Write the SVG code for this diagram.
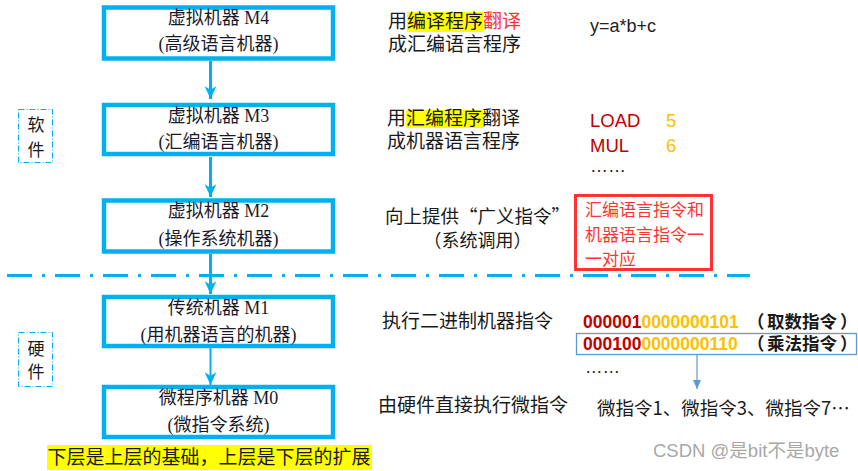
<svg xmlns="http://www.w3.org/2000/svg" width="858" height="471" viewBox="0 0 858 471">
<defs>
<style>
.box{fill:none;stroke:#00b0f0;stroke-width:4.5}
.bt{font-family:"Liberation Serif","Noto Sans CJK SC",serif;font-size:18px;fill:#1a1a2a;text-anchor:middle}
.cn{font-family:"Noto Sans CJK SC",sans-serif;fill:#1a1a1a}
.red{fill:#ff3333}
.lat{font-family:"Liberation Sans",Arial,sans-serif}
.tag{fill:none;stroke:#00b0f0;stroke-width:1;stroke-dasharray:6 2 1 2}
.conn{stroke:#00b0f0;fill:none}
</style>
<marker id="ah" markerUnits="userSpaceOnUse" markerWidth="14" markerHeight="14" viewBox="0 0 12 12" refX="11" refY="6" orient="auto">
<path d="M0,1 L11,6 L0,11 L3,6 Z" fill="#00b0f0"/>
</marker>
<marker id="ah2" markerUnits="userSpaceOnUse" markerWidth="10" markerHeight="10" viewBox="0 0 10 10" refX="9" refY="5" orient="auto">
<path d="M0,1 L9,5 L0,9 Z" fill="#5b9bd5"/>
</marker>
</defs>
<rect width="858" height="471" fill="#ffffff"/>

<g id="connectors">
<line class="conn" x1="210.5" y1="61" x2="210.5" y2="99" stroke-width="3" marker-end="url(#ah)"/>
<line class="conn" x1="210.5" y1="157" x2="210.5" y2="197" stroke-width="3" marker-end="url(#ah)"/>
<line class="conn" x1="210.5" y1="254" x2="210.5" y2="294" stroke-width="3" marker-end="url(#ah)"/>
<line class="conn" x1="210.5" y1="348" x2="210.5" y2="385" stroke-width="2" marker-end="url(#ah)"/>
<line x1="697" y1="355" x2="697" y2="389" stroke="#5b9bd5" stroke-width="1.2" marker-end="url(#ah2)"/>
</g>

<line id="divider" x1="7" y1="275.5" x2="750" y2="275.5" stroke="#00b0f0" stroke-width="3" stroke-dasharray="25 10 3 10"/>

<g id="m4">
<rect class="box" x="104" y="7.5" width="229" height="51"/>
<text class="bt" x="218.5" y="24">虚拟机器 M4</text>
<text class="bt" x="218.5" y="50">(高级语言机器)</text>
</g>
<g id="m3">
<rect class="box" x="104" y="105" width="229" height="49"/>
<text class="bt" x="218.5" y="122">虚拟机器 M3</text>
<text class="bt" x="218.5" y="148">(汇编语言机器)</text>
</g>
<g id="m2">
<rect class="box" x="104" y="200.5" width="229" height="51"/>
<text class="bt" x="218.5" y="217">虚拟机器 M2</text>
<text class="bt" x="218.5" y="245">(操作系统机器)</text>
</g>
<g id="m1">
<rect class="box" x="104" y="297" width="229" height="49"/>
<text class="bt" x="218.5" y="314">传统机器 M1</text>
<text class="bt" x="218.5" y="341">(用机器语言的机器)</text>
</g>
<g id="m0">
<rect class="box" x="104" y="387" width="229" height="50"/>
<text class="bt" x="218.5" y="404">微程序机器 M0</text>
<text class="bt" x="218.5" y="431">(微指令系统)</text>
</g>

<g id="software">
<rect class="tag" x="18.5" y="109.5" width="34" height="53"/>
<text class="cn" x="36" y="131" font-size="17" text-anchor="middle">软</text>
<text class="cn" x="36" y="156" font-size="17" text-anchor="middle">件</text>
</g>
<g id="hardware">
<rect class="tag" x="18.5" y="332.5" width="34" height="54"/>
<text class="cn" x="36" y="355" font-size="17" text-anchor="middle">硬</text>
<text class="cn" x="36" y="378" font-size="17" text-anchor="middle">件</text>
</g>

<g id="summary">
<rect x="47" y="445" width="325" height="25" fill="#ffff00"/>
<text class="cn" x="47.5" y="464" font-size="19">下层是上层的基础，上层是下层的扩展</text>
</g>

<g id="note-m4">
<rect x="407" y="12" width="76" height="20" fill="#ffff00"/>
<text class="cn" x="388" y="28" font-size="19">用<tspan>编译程序</tspan><tspan class="red">翻译</tspan></text>
<text class="cn" x="388" y="51" font-size="19">成汇编语言程序</text>
<text class="lat" x="590" y="32" font-size="18" fill="#222">y=a*b+c</text>
</g>

<g id="note-m3">
<rect x="406" y="110" width="77" height="18" fill="#ffff00"/>
<text class="cn" x="387" y="125" font-size="19">用汇编程序翻译</text>
<text class="cn" x="387" y="148" font-size="19">成机器语言程序</text>
<text class="lat" x="590" y="127" font-size="18.5" fill="#c00000">LOAD</text>
<text class="lat" x="666" y="127" font-size="18.5" fill="#ffc000">5</text>
<text class="lat" x="590" y="152" font-size="18.5" fill="#c00000">MUL</text>
<text class="lat" x="666" y="152" font-size="18.5" fill="#ffc000">6</text>
<text class="lat" x="590" y="172" font-size="18" fill="#222">……</text>
</g>

<g id="note-m2">
<text class="cn" x="477.5" y="223" font-size="18.5" text-anchor="middle">向上提供“广义指令”</text>
<text class="cn" x="477.5" y="247" font-size="18" text-anchor="middle">（系统调用）</text>
</g>

<g id="mapping-note">
<rect x="575.5" y="195.5" width="136" height="74" fill="none" stroke="#ff3333" stroke-width="3"/>
<text class="cn red" x="585" y="216" font-size="17" style="fill:#ff3333">汇编语言指令和</text>
<text class="cn red" x="585" y="241" font-size="17" style="fill:#ff3333">机器语言指令一</text>
<text class="cn red" x="585" y="265" font-size="17" style="fill:#ff3333">一对应</text>
</g>

<g id="note-m1">
<text class="cn" x="382" y="328" font-size="19">执行二进制机器指令</text>
<text class="lat" x="583" y="328" font-size="17.5" font-weight="bold"><tspan fill="#c00000">000001</tspan><tspan fill="#ffc000">0000000101</tspan></text>
<text class="cn" font-size="17.5" font-weight="bold" y="328"><tspan x="747">（</tspan><tspan x="767">取数指令</tspan><tspan x="840">）</tspan></text>
<rect x="576.5" y="333.5" width="280" height="21" fill="none" stroke="#5b9bd5" stroke-width="1.3"/>
<text class="lat" x="583" y="350" font-size="17.5" font-weight="bold"><tspan fill="#c00000">000100</tspan><tspan fill="#ffc000">0000000110</tspan></text>
<text class="cn" font-size="17.5" font-weight="bold" y="350"><tspan x="747">（</tspan><tspan x="767">乘法指令</tspan><tspan x="840">）</tspan></text>
<text class="lat" x="585" y="373" font-size="17.5" fill="#222">……</text>
</g>

<g id="note-m0">
<text class="cn" x="378" y="412" font-size="19">由硬件直接执行微指令</text>
<text class="cn" x="597" y="415" font-size="18.5">微指令1、微指令3、微指令7…</text>
</g>

<text class="lat" x="653" y="457" font-size="18.5" fill="#a8a8a8">CSDN @<tspan font-family="Noto Sans CJK SC">是</tspan>bit<tspan font-family="Noto Sans CJK SC">不是</tspan>byte</text>
</svg>
